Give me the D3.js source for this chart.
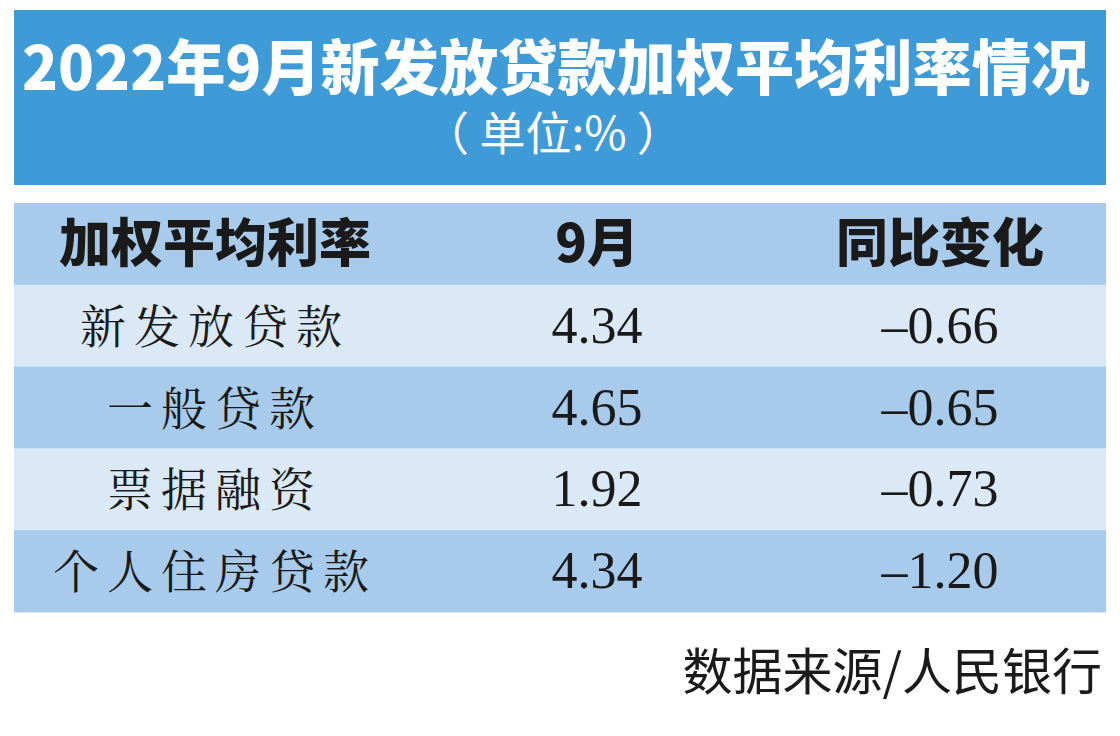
<!DOCTYPE html><html><head><meta charset="utf-8"><script src="https://cdn.jsdelivr.net/npm/d3@7/dist/d3.min.js"></script>
<style>body{margin:0;background:#fff}</style></head><body><svg id="c" width="1120" height="736"></svg>
<script>
const title="2022年9月新发放贷款加权平均利率情况";
const subtitle="（ 单位:% ）";
const headers=["加权平均利率","9月","同比变化"];
const categories=["新发放贷款","一般贷款","票据融资","个人住房贷款"];
const septValues=["4.34","4.65","1.92","4.34"];
const yoyValues=["–0.66","–0.65","–0.73","–1.20"];
const source="数据来源/人民银行";
const svg=d3.select("#c");
const cjk="'Noto Sans CJK SC',sans-serif";
svg.append("rect").attr("x",14).attr("y",10).attr("width",1092).attr("height",175).attr("fill","#3f9bd7");
svg.append("text").attr("x",22).attr("y",90).attr("textLength",1068).attr("lengthAdjust","spacingAndGlyphs").attr("fill","#fff").attr("font-family",cjk).attr("font-weight",900).attr("font-size",60).text(title);
svg.append("text").attr("x",553).attr("y",150).attr("text-anchor","middle").attr("fill","#fff").attr("font-family",cjk).attr("font-size",46).text(subtitle);
const y=d3.scaleBand().domain(d3.range(5)).range([203,612]).padding(0);
const colX=[215,597,940];
const fills=["#a8cbeb","#dbe9f6","#a8cbeb","#dbe9f6","#a8cbeb"];
d3.range(5).forEach(i=>svg.append("rect").attr("x",14).attr("y",y(i)).attr("width",1092).attr("height",y.bandwidth()+0.5).attr("fill",fills[i]));
headers.forEach((h,j)=>svg.append("text").attr("x",colX[j]).attr("y",y(0)+y.bandwidth()/2+18).attr("text-anchor","middle").attr("font-family",cjk).attr("font-weight",900).attr("font-size",52).attr("fill","#1a1a1a").text(h));
categories.forEach((c,i)=>{
 const cy=y(i+1)+y.bandwidth()/2+17;
 svg.append("text").attr("x",colX[0]).attr("y",cy).attr("text-anchor","middle").attr("font-family","'Noto Serif CJK SC','Noto Sans CJK SC',serif").attr("font-size",46).attr("letter-spacing",8).attr("fill","#1a1a1a").text(c);
 svg.append("text").attr("x",colX[1]).attr("y",cy).attr("text-anchor","middle").attr("font-family","'Liberation Serif',serif").attr("font-size",52).attr("fill","#1a1a1a").text(septValues[i]);
 svg.append("text").attr("x",colX[2]).attr("y",cy).attr("text-anchor","middle").attr("font-family","'Liberation Serif',serif").attr("font-size",52).attr("fill","#1a1a1a").text(yoyValues[i]);
});
svg.append("text").attr("x",1102).attr("y",690).attr("text-anchor","end").attr("font-family",cjk).attr("font-size",50).attr("fill","#1a1a1a").text(source);
</script></body></html>
